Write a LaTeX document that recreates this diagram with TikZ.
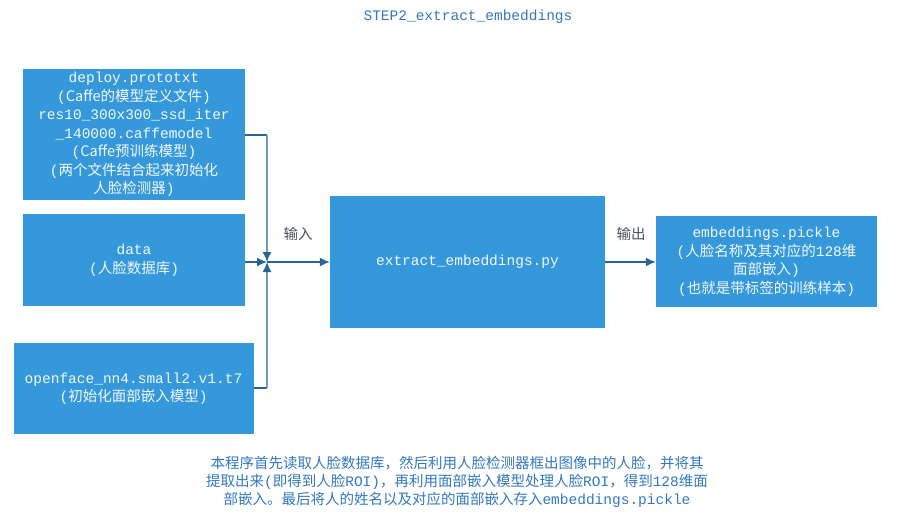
\documentclass[tikz,border=0pt]{standalone}
\usepackage{fontspec}
\setmainfont{Liberation Mono}
\newfontfamily\cjk{Noto Sans CJK SC}
\usetikzlibrary{arrows.meta}
\definecolor{boxblue}{RGB}{52,152,219}
\definecolor{linedark}{RGB}{40,100,150}
\definecolor{linelight}{RGB}{110,155,190}
\definecolor{txtblue}{RGB}{50,120,190}
\definecolor{lblgray}{RGB}{70,80,95}
\tikzset{
  box/.style={fill=boxblue, draw=none, text=white!94!boxblue, align=center, inner sep=0pt, font=\fontsize{14.5}{18.5}\selectfont},
  tip/.style={-{Latex[length=10pt,width=9pt]}},
  conn/.style={draw=linedark, line width=1.5pt, tip},
  connl/.style={draw=linelight, line width=1.5pt},
  lbl/.style={text=lblgray, font=\fontsize{14.5}{18}\selectfont\cjk},
}
\begin{document}
\begin{tikzpicture}[x=1pt,y=-1pt]
\useasboundingbox (0,0) rectangle (904,528);
\node[text=txtblue, font=\fontsize{14.5}{18}\selectfont] (title) at (468,17) {STEP2\_extract\_embeddings};
\node[box, minimum width=222pt, minimum height=131pt] (b1) at (134,134.5) {deploy.prototxt\\({\cjk Caffe的模型定义文件})\\res10\_300x300\_ssd\_iter\\\_140000.caffemodel\\({\cjk Caffe预训练模型})\\({\cjk 两个文件结合起来初始化}\\{\cjk 人脸检测器})};
\node[box, minimum width=222pt, minimum height=92pt] (b2) at (134,260) {data\\({\cjk 人脸数据库})};
\node[box, minimum width=240pt, minimum height=91pt] (b3) at (133.5,388.5) {openface\_nn4.small2.v1.t7\\({\cjk 初始化面部嵌入模型})};
\node[box, minimum width=275pt, minimum height=132pt] (c) at (467.5,262) {extract\_embeddings.py};
\node[box, minimum width=221pt, minimum height=91pt] (r) at (766.5,261.5) {embeddings.pickle\\({\cjk 人脸名称及其对应的}128{\cjk 维}\\{\cjk 面部嵌入})\\({\cjk 也就是带标签的训练样本})};
\coordinate (J) at (267,262);
\coordinate (t1) at (267,135);
\coordinate (t3) at (267,388);
\draw[linedark, line width=1.5pt] (b1.east |- t1) -- (t1);
\draw[connl, -{Latex[length=10pt,width=9pt,color=linedark]}] (t1) -- (J);
\draw[linedark, line width=1.5pt] (b3.east |- t3) -- (t3);
\draw[connl, -{Latex[length=10pt,width=9pt,color=linedark]}] (t3) -- (J);
\draw[conn] (b2.east |- J) -- (J);
\draw[conn] (J) -- (c.west |- J);
\draw[conn] (c.east |- J) -- (r.west |- J);
\node[lbl] (in) at (298,234) {输入};
\node[lbl] (out) at (631,234) {输出};
\node[text=txtblue, align=center, font=\fontsize{14.5}{18}\selectfont] (desc) at (457,482) {{\cjk 本程序首先读取人脸数据库，然后利用人脸检测器框出图像中的人脸，并将其}\\{\cjk 提取出来}({\cjk 即得到人脸}ROI){\cjk ，再利用面部嵌入模型处理人脸}ROI{\cjk ，得到}128{\cjk 维面}\\{\cjk 部嵌入。最后将人的姓名以及对应的面部嵌入存入}embeddings.pickle};
\end{tikzpicture}
\end{document}
